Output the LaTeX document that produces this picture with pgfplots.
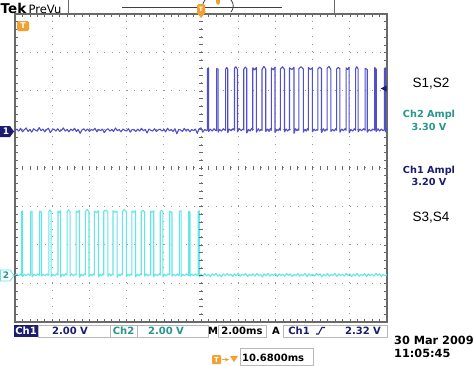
\documentclass[border=0pt]{standalone}
\usepackage{pgfplots}
\pgfplotsset{compat=1.18}
\usepackage{fontspec}
\setmainfont{DejaVu Sans}
\newfontfamily\arialf{Liberation Sans}
\definecolor{tnavy}{RGB}{28,28,112}
\definecolor{chone}{RGB}{80,80,205}
\definecolor{chtwo}{RGB}{100,230,232}
\definecolor{tteal}{RGB}{40,150,140}
\definecolor{torange}{RGB}{242,160,50}
\definecolor{framegray}{RGB}{105,105,105}
\definecolor{gridgray}{RGB}{150,150,150}
\definecolor{boxgray}{RGB}{185,185,185}
\newcommand\tf[1]{\fontsize{#1bp}{#1bp}\selectfont}
\begin{document}
\begin{tikzpicture}
\path[use as bounding box] (0,0) rectangle (474bp,-366bp);
\fill[white] (0,0) rectangle (474bp,-366bp);
\begin{axis}[at={(15bp,-14bp)}, anchor=north west, scale only axis,
  width=372bp, height=308bp, xmin=0, xmax=10, ymin=-4, ymax=4,
  xtick={0,...,10}, ytick={-4,...,4}, minor x tick num=4, minor y tick num=4,
  xticklabels={}, yticklabels={}, tick align=inside,
  major tick length=3bp, minor tick length=3bp,
  tick style={color=framegray, line width=0.6bp},
  grid=major,
  x grid style={draw=gridgray, line width=1bp, dash pattern=on 1bp off 6.7bp},
  y grid style={draw=gridgray, line width=1bp, dash pattern=on 1bp off 6.44bp},
  axis line style={draw=framegray, line width=1.5bp}]
% Ch1 (S1,S2)
\addplot[chone, line width=1.1bp, line join=round] coordinates {
(0.00,0.98)(0.05,1.01)(0.10,0.96)(0.15,1.03)(0.20,0.94)(0.25,0.99)(0.30,1.04)(0.35,0.95)(0.40,1.00)(0.45,0.93)
(0.50,1.02)(0.55,0.98)(0.60,0.96)(0.65,1.05)(0.70,0.97)(0.75,1.01)(0.80,0.94)(0.85,1.00)(0.90,1.03)(0.95,0.92)
(1.00,0.99)(1.05,1.01)(1.10,0.96)(1.15,1.02)(1.20,0.95)(1.25,0.98)(1.30,1.04)(1.35,0.96)(1.40,1.00)(1.45,0.94)
(1.50,1.01)(1.55,0.97)(1.60,1.03)(1.65,0.95)(1.70,1.00)(1.75,0.90)(1.80,0.99)(1.85,1.02)(1.90,0.96)(1.95,1.01)
(2.00,0.95)(2.05,1.00)(2.10,0.98)(2.15,1.03)(2.20,0.94)(2.25,1.00)(2.30,0.97)(2.35,1.01)(2.40,0.92)(2.45,0.99)
(2.50,1.02)(2.55,0.96)(2.60,1.00)(2.65,0.95)(2.70,1.04)(2.75,0.97)(2.80,1.00)(2.85,0.94)(2.90,1.01)(2.95,0.98)
(3.00,0.96)(3.05,1.02)(3.10,0.93)(3.15,1.00)(3.20,0.99)(3.25,0.95)(3.30,1.01)(3.35,0.96)(3.40,1.03)(3.45,0.97)
(3.50,1.00)(3.55,0.91)(3.60,1.01)(3.65,0.98)(3.70,0.96)(3.75,1.02)(3.80,0.95)(3.85,0.99)(3.90,1.01)(3.95,0.96)
(4.00,1.00)(4.05,0.94)(4.10,1.03)(4.15,0.97)(4.20,1.00)(4.25,0.95)(4.30,1.02)(4.35,0.89)(4.40,1.00)(4.45,0.99)
(4.50,0.95)(4.55,1.03)(4.60,0.96)(4.65,1.01)(4.70,0.94)(4.75,1.00)(4.80,0.97)(4.85,1.01)(4.90,0.90)(4.95,1.02)
(5.00,1.04)(5.05,0.93)(5.10,1.00)(5.15,0.97)
(5.175,0.99)(5.175,2.58)(5.205,2.60)(5.205,0.95)(5.25,1.01)(5.30,0.96)(5.35,1.02)(5.40,0.97)
(5.42,0.97)(5.42,2.58)(5.46,2.57)(5.46,0.93)(5.50,1.00)(5.55,0.96)(5.60,1.02)(5.65,0.98)
(5.66,0.98)(5.66,2.56)(5.69,2.61)(5.72,2.57)(5.72,0.92)(5.76,1.01)(5.81,0.97)(5.86,1.02)
(5.90,0.98)(5.90,2.59)(5.94,2.63)(5.98,2.56)(5.98,0.94)(6.03,1.02)(6.08,0.97)(6.12,1.01)
(6.15,0.99)(6.15,2.57)(6.19,2.62)(6.23,2.58)(6.23,0.91)(6.28,1.00)(6.32,0.96)(6.36,1.03)
(6.39,0.98)(6.39,2.60)(6.44,2.55)(6.49,2.61)(6.49,0.93)(6.54,1.02)(6.58,0.96)(6.61,1.00)
(6.64,0.98)(6.64,2.56)(6.69,2.64)(6.74,2.57)(6.74,0.95)(6.79,1.01)(6.83,0.95)(6.86,1.02)
(6.89,0.98)(6.89,2.60)(6.94,2.55)(6.99,2.62)(6.99,0.92)(7.04,1.00)(7.08,0.97)(7.11,1.03)
(7.135,0.98)(7.135,2.57)(7.19,2.63)(7.245,2.56)(7.245,0.94)(7.29,1.01)(7.33,0.96)(7.36,1.00)
(7.38,0.99)(7.38,2.60)(7.44,2.56)(7.50,2.61)(7.50,0.90)(7.54,1.02)(7.58,0.97)(7.61,1.01)
(7.63,0.98)(7.63,2.58)(7.69,2.63)(7.75,2.57)(7.75,0.93)(7.79,1.00)(7.83,0.96)(7.86,1.02)
(7.885,0.98)(7.885,2.61)(7.94,2.56)(7.995,2.60)(7.995,0.94)(8.04,1.01)(8.08,0.97)(8.12,1.00)
(8.14,0.98)(8.14,2.57)(8.19,2.62)(8.24,2.58)(8.24,0.92)(8.29,1.02)(8.33,0.96)(8.37,1.01)
(8.39,0.98)(8.39,2.59)(8.44,2.64)(8.49,2.56)(8.49,0.95)(8.54,1.00)(8.58,0.96)(8.62,1.02)
(8.645,0.98)(8.645,2.57)(8.69,2.61)(8.735,2.58)(8.735,0.93)(8.78,1.01)(8.83,0.97)(8.87,1.02)
(8.90,0.98)(8.90,2.60)(8.94,2.56)(8.98,2.62)(8.98,0.91)(9.03,1.00)(9.08,0.96)(9.12,1.02)
(9.155,0.98)(9.155,2.58)(9.19,2.63)(9.225,2.57)(9.225,0.94)(9.27,1.01)(9.32,0.97)(9.37,1.02)
(9.41,0.98)(9.41,2.59)(9.47,2.56)(9.47,0.93)(9.52,1.00)(9.57,0.96)(9.62,1.01)
(9.67,0.98)(9.67,2.61)(9.71,2.57)(9.71,0.95)(9.76,1.02)(9.80,0.96)(9.85,1.01)(9.89,0.97)
(9.93,0.99)(9.93,2.58)(9.955,2.60)(9.955,0.94)(9.98,1.02)(10.0,0.98)
};
% Ch2 (S3,S4)
\addplot[chtwo, line width=1.1bp, line join=round] coordinates {
(0.00,-2.78)(0.05,-2.75)(0.10,-2.80)(0.15,-2.76)
(0.175,-2.79)(0.175,-1.13)(0.205,-1.11)(0.205,-2.82)(0.25,-2.76)(0.30,-2.80)(0.35,-2.75)(0.40,-2.79)
(0.42,-2.78)(0.42,-1.14)(0.46,-1.12)(0.46,-2.83)(0.51,-2.76)(0.56,-2.80)(0.61,-2.75)(0.65,-2.79)
(0.665,-2.78)(0.665,-1.12)(0.715,-1.15)(0.715,-2.81)(0.76,-2.76)(0.81,-2.80)(0.86,-2.75)(0.89,-2.79)
(0.91,-2.78)(0.91,-1.13)(0.94,-1.09)(0.97,-1.14)(0.97,-2.82)(1.02,-2.76)(1.07,-2.80)(1.12,-2.75)
(1.155,-2.78)(1.155,-1.12)(1.19,-1.16)(1.225,-1.11)(1.225,-2.83)(1.27,-2.76)(1.32,-2.80)(1.36,-2.75)
(1.40,-2.78)(1.40,-1.13)(1.44,-1.09)(1.48,-1.14)(1.48,-2.81)(1.52,-2.75)(1.57,-2.80)(1.61,-2.76)
(1.645,-2.78)(1.645,-1.12)(1.69,-1.15)(1.735,-1.10)(1.735,-2.84)(1.78,-2.76)(1.82,-2.80)(1.86,-2.75)
(1.89,-2.78)(1.89,-1.14)(1.94,-1.08)(1.99,-1.13)(1.99,-2.82)(2.04,-2.76)(2.08,-2.80)(2.11,-2.75)
(2.135,-2.78)(2.135,-1.12)(2.19,-1.16)(2.245,-1.11)(2.245,-2.83)(2.29,-2.76)(2.33,-2.80)(2.36,-2.75)
(2.385,-2.78)(2.385,-1.13)(2.44,-1.09)(2.495,-1.14)(2.495,-2.81)(2.54,-2.75)(2.58,-2.80)(2.61,-2.76)
(2.635,-2.78)(2.635,-1.11)(2.69,-1.15)(2.745,-1.12)(2.745,-2.84)(2.79,-2.76)(2.83,-2.80)(2.86,-2.75)
(2.885,-2.78)(2.885,-1.13)(2.94,-1.08)(2.995,-1.14)(2.995,-2.82)(3.04,-2.76)(3.08,-2.80)(3.12,-2.75)
(3.14,-2.78)(3.14,-1.12)(3.19,-1.15)(3.24,-1.11)(3.24,-2.83)(3.29,-2.76)(3.33,-2.80)(3.37,-2.75)
(3.395,-2.78)(3.395,-1.13)(3.44,-1.10)(3.485,-1.14)(3.485,-2.81)(3.53,-2.75)(3.58,-2.80)(3.62,-2.76)
(3.65,-2.78)(3.65,-1.12)(3.69,-1.15)(3.73,-1.11)(3.73,-2.82)(3.78,-2.76)(3.83,-2.80)(3.87,-2.75)
(3.905,-2.78)(3.905,-1.13)(3.94,-1.10)(3.975,-1.14)(3.975,-2.83)(4.02,-2.76)(4.07,-2.80)(4.12,-2.75)
(4.16,-2.78)(4.16,-1.12)(4.22,-1.15)(4.22,-2.81)(4.27,-2.76)(4.32,-2.80)(4.37,-2.75)(4.40,-2.79)
(4.42,-2.78)(4.42,-1.13)(4.465,-1.11)(4.465,-2.82)(4.51,-2.76)(4.56,-2.80)(4.61,-2.75)(4.65,-2.79)
(4.67,-2.78)(4.67,-1.12)(4.705,-1.15)(4.705,-2.81)(4.75,-2.76)(4.80,-2.80)(4.85,-2.75)(4.90,-2.79)
(4.925,-2.78)(4.925,-1.13)(4.955,-1.11)(4.955,-2.83)(5.00,-2.76)
(5.05,-2.81)(5.10,-2.74)(5.15,-2.80)(5.20,-2.76)(5.25,-2.82)(5.30,-2.75)(5.35,-2.79)(5.40,-2.74)(5.45,-2.81)(5.50,-2.77)
(5.55,-2.83)(5.60,-2.75)(5.65,-2.80)(5.70,-2.74)(5.75,-2.79)(5.80,-2.76)(5.85,-2.82)(5.90,-2.75)(5.95,-2.80)(6.00,-2.73)
(6.05,-2.81)(6.10,-2.76)(6.15,-2.79)(6.20,-2.74)(6.25,-2.82)(6.30,-2.76)(6.35,-2.80)(6.40,-2.75)(6.45,-2.81)(6.50,-2.74)
(6.55,-2.79)(6.60,-2.77)(6.65,-2.83)(6.70,-2.75)(6.75,-2.80)(6.80,-2.74)(6.85,-2.81)(6.90,-2.76)(6.95,-2.79)(7.00,-2.74)
(7.05,-2.82)(7.10,-2.75)(7.15,-2.80)(7.20,-2.76)(7.25,-2.81)(7.30,-2.74)(7.35,-2.79)(7.40,-2.75)(7.45,-2.82)(7.50,-2.76)
(7.55,-2.80)(7.60,-2.74)(7.65,-2.81)(7.70,-2.77)(7.75,-2.79)(7.80,-2.74)(7.85,-2.82)(7.90,-2.75)(7.95,-2.80)(8.00,-2.76)
(8.05,-2.81)(8.10,-2.74)(8.15,-2.79)(8.20,-2.75)(8.25,-2.83)(8.30,-2.76)(8.35,-2.80)(8.40,-2.74)(8.45,-2.81)(8.50,-2.77)
(8.55,-2.79)(8.60,-2.74)(8.65,-2.82)(8.70,-2.75)(8.75,-2.80)(8.80,-2.76)(8.85,-2.81)(8.90,-2.74)(8.95,-2.79)(9.00,-2.75)
(9.05,-2.82)(9.10,-2.76)(9.15,-2.80)(9.20,-2.74)(9.25,-2.81)(9.30,-2.77)(9.35,-2.79)(9.40,-2.74)(9.45,-2.82)(9.50,-2.75)
(9.55,-2.80)(9.60,-2.76)(9.65,-2.81)(9.70,-2.74)(9.75,-2.79)(9.80,-2.75)(9.85,-2.82)(9.90,-2.76)(9.95,-2.80)(10.00,-2.77)
};
\end{axis}
% centre-line ticks of the graticule
\foreach \i in {0,...,50} {\draw[gridgray!70!black, line width=0.7bp] ({15bp+7.44bp*\i},-166bp) -- ++(0,-4bp);}
\foreach \j in {0,...,40} {\draw[gridgray!70!black, line width=0.7bp] (199bp,{-14bp-7.7bp*\j}) -- ++(4bp,0);}
% header
\node[anchor=base west, inner sep=0pt, font=\bfseries\tf{13.5}] at (0.5bp,-13.5bp) {Tek};
\node[anchor=base west, inner sep=0pt, font=\tf{11.5}] at (28.5bp,-13bp) {PreVu};
\draw[framegray, line width=0.8bp] (68bp,0) -- (68bp,-13bp);
\draw[framegray, line width=0.8bp] (334bp,0) -- (334bp,-13bp);
\draw[black!75, line width=0.8bp] (122bp,-7bp) -- (282bp,-7bp);
\draw[black!75, line width=0.8bp] (205bp,0bp) .. controls (202bp,-3bp) and (202bp,-9bp) .. (205bp,-12bp);
\draw[black!75, line width=0.8bp] (231bp,0bp) .. controls (234bp,-3bp) and (234bp,-9bp) .. (231bp,-12bp);
\fill[torange] (216bp,0bp) rectangle (220bp,-3bp);
\fill[torange] (216bp,-3bp) -- (220bp,-3bp) -- (218bp,-5bp) -- cycle;
% trigger position marker at top
\fill[torange, rounded corners=1.5bp] (197bp,-4bp) rectangle (205bp,-14bp);
\fill[torange] (197bp,-13bp) -- (205bp,-13bp) -- (201bp,-18bp) -- cycle;
\node[text=white, font=\bfseries\tf{6}, inner sep=0pt] at (201bp,-9bp) {T};
% orange T at top-left
\fill[torange, rounded corners=1.5bp] (17bp,-21bp) rectangle (29bp,-31bp);
\node[text=white, font=\bfseries\tf{8}, inner sep=0pt] at (23bp,-26bp) {T};
% channel ground markers
\fill[tnavy] (0bp,-126bp) -- (10bp,-126bp) -- (14bp,-131.5bp) -- (10bp,-137bp) -- (0bp,-137bp) -- cycle;
\node[text=white, font=\bfseries\tf{9}, inner sep=0pt] at (6bp,-131.5bp) {1};
\filldraw[fill=white, draw=chtwo, line width=0.8bp] (0.4bp,-270bp) -- (10bp,-270bp) -- (14bp,-275.5bp) -- (10bp,-281bp) -- (0.4bp,-281bp) -- cycle;
\node[text=tteal, font=\bfseries\tf{9}, inner sep=0pt] at (6bp,-275.5bp) {2};
% trigger level arrow
\fill[tnavy] (380.5bp,-88.5bp) -- (386.5bp,-85.5bp) -- (386.5bp,-91.5bp) -- cycle;
% right-hand labels
\node[anchor=base, inner sep=0pt, font=\arialf\tf{13.5}] at (431bp,-87.5bp) {S1,S2};
\node[anchor=base, inner sep=0pt, text=tteal, font=\bfseries\tf{9.7}] at (429bp,-117.5bp) {Ch2 Ampl};
\node[anchor=base, inner sep=0pt, text=tteal, font=\bfseries\tf{9.7}] at (429bp,-130bp) {3.30 V};
\node[anchor=base, inner sep=0pt, text=tnavy, font=\bfseries\tf{9.7}] at (429bp,-173.5bp) {Ch1 Ampl};
\node[anchor=base, inner sep=0pt, text=tnavy, font=\bfseries\tf{9.7}] at (429bp,-185bp) {3.20 V};
\node[anchor=base, inner sep=0pt, font=\arialf\tf{13.5}] at (431bp,-221.7bp) {S3,S4};
% bottom status bar
\fill[tnavy] (14bp,-325bp) rectangle (38bp,-337bp);
\node[anchor=base, inner sep=0pt, text=white, font=\bfseries\tf{10}] at (26bp,-334.5bp) {Ch1};
\draw[boxgray, line width=0.7bp] (38bp,-325bp) rectangle (110bp,-337bp);
\node[anchor=base, inner sep=0pt, text=tnavy, font=\bfseries\tf{10}] at (70bp,-334.5bp) {2.00 V};
\draw[boxgray, line width=0.7bp] (110bp,-325bp) rectangle (137bp,-337bp);
\node[anchor=base, inner sep=0pt, text=tteal, font=\bfseries\tf{10}] at (123.5bp,-334.5bp) {Ch2};
\draw[boxgray, line width=0.7bp] (137bp,-325bp) rectangle (208bp,-337bp);
\node[anchor=base, inner sep=0pt, text=tteal, font=\bfseries\tf{10}] at (166bp,-334.5bp) {2.00 V};
\node[anchor=base, inner sep=0pt, font=\bfseries\tf{10}] at (213bp,-334.5bp) {M};
\draw[boxgray, line width=0.7bp] (218bp,-325bp) rectangle (266bp,-337bp);
\node[anchor=base, inner sep=0pt, font=\bfseries\tf{10}] at (242bp,-334.5bp) {2.00ms};
\node[anchor=base, inner sep=0pt, font=\bfseries\tf{10}] at (276bp,-334.5bp) {A};
\draw[boxgray, line width=0.7bp] (283bp,-325bp) rectangle (387bp,-337bp);
\node[anchor=base, inner sep=0pt, text=tnavy, font=\bfseries\tf{10}] at (299bp,-334.5bp) {Ch1};
\draw[tnavy, line width=1.1bp] (316bp,-334bp) -- (318.5bp,-334bp) -- (322bp,-327.5bp) -- (325bp,-327.5bp);
\node[anchor=base, inner sep=0pt, text=tnavy, font=\bfseries\tf{10}] at (363bp,-334.5bp) {2.32 V};
% second row
\fill[torange, rounded corners=1bp] (212bp,-355bp) rectangle (221bp,-364bp);
\node[text=white, font=\bfseries\tf{7}, inner sep=0pt] at (216.5bp,-359.5bp) {T};
\draw[torange, line width=0.8bp, -stealth] (222bp,-359.5bp) -- (229bp,-359.5bp);
\fill[torange] (230bp,-356bp) -- (238bp,-356bp) -- (234bp,-362bp) -- cycle;
\draw[boxgray, line width=0.7bp] (240bp,-348bp) rectangle (313bp,-365bp);
\node[anchor=base west, inner sep=0pt, font=\bfseries\tf{10}] at (242bp,-361.5bp) {10.6800ms};
\node[anchor=base west, inner sep=0pt, font=\bfseries\tf{11.3}] at (394bp,-344bp) {30 Mar 2009};
\node[anchor=base west, inner sep=0pt, font=\bfseries\tf{11.3}] at (394bp,-357.5bp) {11:05:45};
\end{tikzpicture}
\end{document}
